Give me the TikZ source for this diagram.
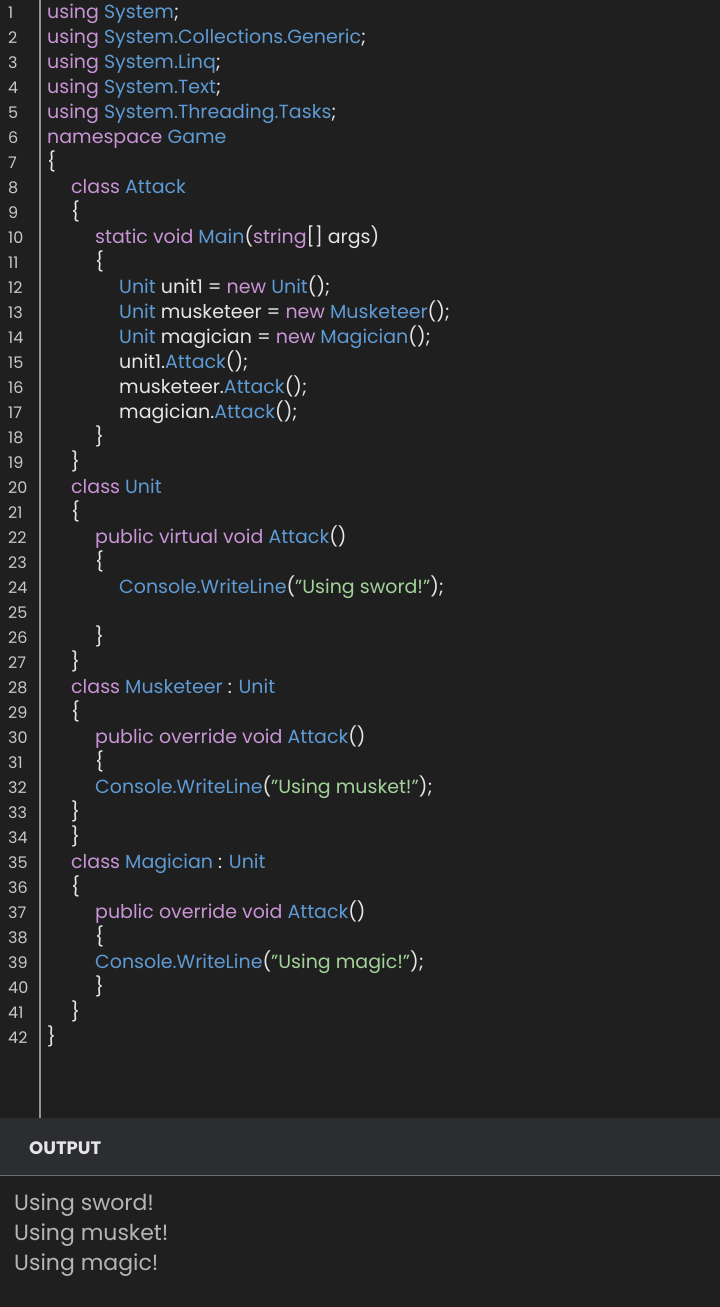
\documentclass[tikz,border=0pt]{standalone}
\usepackage{fontspec}
\setmainfont{Poppins}
\definecolor{bg}{HTML}{1F1F1F}
\definecolor{kwc}{HTML}{C994D6}
\definecolor{tyc}{HTML}{5E9AD3}
\definecolor{stc}{HTML}{A3D39A}
\definecolor{txc}{HTML}{E6E6E6}
\definecolor{lnc}{HTML}{C8C8C8}
\definecolor{panel}{HTML}{2C2D30}
\definecolor{outc}{HTML}{B5B5B5}
\newcommand{\kw}[1]{\textcolor{kwc}{#1}}
\newcommand{\ty}[1]{\textcolor{tyc}{#1}}
\newcommand{\st}[1]{\textcolor{stc}{\symbol{34}#1\symbol{34}}}
\begin{document}
\begin{tikzpicture}[x=1pt,y=-1pt,
  code/.style={anchor=base west,inner sep=0,text=txc,font=\fontsize{19}{21}\selectfont},
  lnum/.style={anchor=base west,inner sep=0,text=lnc,font=\fontsize{16}{18}\selectfont},
  outtxt/.style={anchor=base west,inner sep=0,text=outc,font=\fontsize{22}{24}\selectfont}]
\fill[bg] (0,0) rectangle (720,1307);
\useasboundingbox (0,0) rectangle (720,1307);
\draw[lnc!70!bg,line width=1.2] (40,0) -- (40,1118);
\foreach \n in {1,...,42}{\node[lnum] (ln\n) at (8,{18+25*(\n-1)}) {\n};}
\newcommand{\cl}[3]{\node[code] (c#1) at ({47+24*#2},{18+25*(#1-1)}) {#3};}
\cl{1}{0}{\kw{using} \ty{System};}
\cl{2}{0}{\kw{using} \ty{System.Collections.Generic};}
\cl{3}{0}{\kw{using} \ty{System.Linq};}
\cl{4}{0}{\kw{using} \ty{System.Text};}
\cl{5}{0}{\kw{using} \ty{System.Threading.Tasks};}
\cl{6}{0}{\kw{namespace} \ty{Game}}
\cl{7}{0}{\{}
\cl{8}{1}{\kw{class} \ty{Attack}}
\cl{9}{1}{\{}
\cl{10}{2}{\kw{static} \kw{void} \ty{Main}(\kw{string}[] args)}
\cl{11}{2}{\{}
\cl{12}{3}{\ty{Unit} unit1 = \kw{new} \ty{Unit}();}
\cl{13}{3}{\ty{Unit} musketeer = \kw{new} \ty{Musketeer}();}
\cl{14}{3}{\ty{Unit} magician = \kw{new} \ty{Magician}();}
\cl{15}{3}{unit1.\ty{Attack}();}
\cl{16}{3}{musketeer.\ty{Attack}();}
\cl{17}{3}{magician.\ty{Attack}();}
\cl{18}{2}{\}}
\cl{19}{1}{\}}
\cl{20}{1}{\kw{class} \ty{Unit}}
\cl{21}{1}{\{}
\cl{22}{2}{\kw{public} \kw{virtual} \kw{void} \ty{Attack}()}
\cl{23}{2}{\{}
\cl{24}{3}{\ty{Console.WriteLine}(\st{Using sword!});}
\cl{26}{2}{\}}
\cl{27}{1}{\}}
\cl{28}{1}{\kw{class} \ty{Musketeer} : \ty{Unit}}
\cl{29}{1}{\{}
\cl{30}{2}{\kw{public} \kw{override} \kw{void} \ty{Attack}()}
\cl{31}{2}{\{}
\cl{32}{2}{\ty{Console.WriteLine}(\st{Using musket!});}
\cl{33}{1}{\}}
\cl{34}{1}{\}}
\cl{35}{1}{\kw{class} \ty{Magician} : \ty{Unit}}
\cl{36}{1}{\{}
\cl{37}{2}{\kw{public} \kw{override} \kw{void} \ty{Attack}()}
\cl{38}{2}{\{}
\cl{39}{2}{\ty{Console.WriteLine}(\st{Using magic!});}
\cl{40}{2}{\}}
\cl{41}{1}{\}}
\cl{42}{0}{\}}
\fill[panel] (0,1118) rectangle (720,1175);
\draw[panel!70!white,line width=1] (0,1175) -- (720,1175);
\node[anchor=west,inner sep=0,text=txc,font=\fontsize{18}{20}\selectfont\bfseries] (out) at (29,1148) {OUTPUT};
\node[outtxt] (o1) at (14,1210) {Using sword!};
\node[outtxt] (o2) at (14,1240) {Using musket!};
\node[outtxt] (o3) at (14,1270) {Using magic!};
\end{tikzpicture}
\end{document}
